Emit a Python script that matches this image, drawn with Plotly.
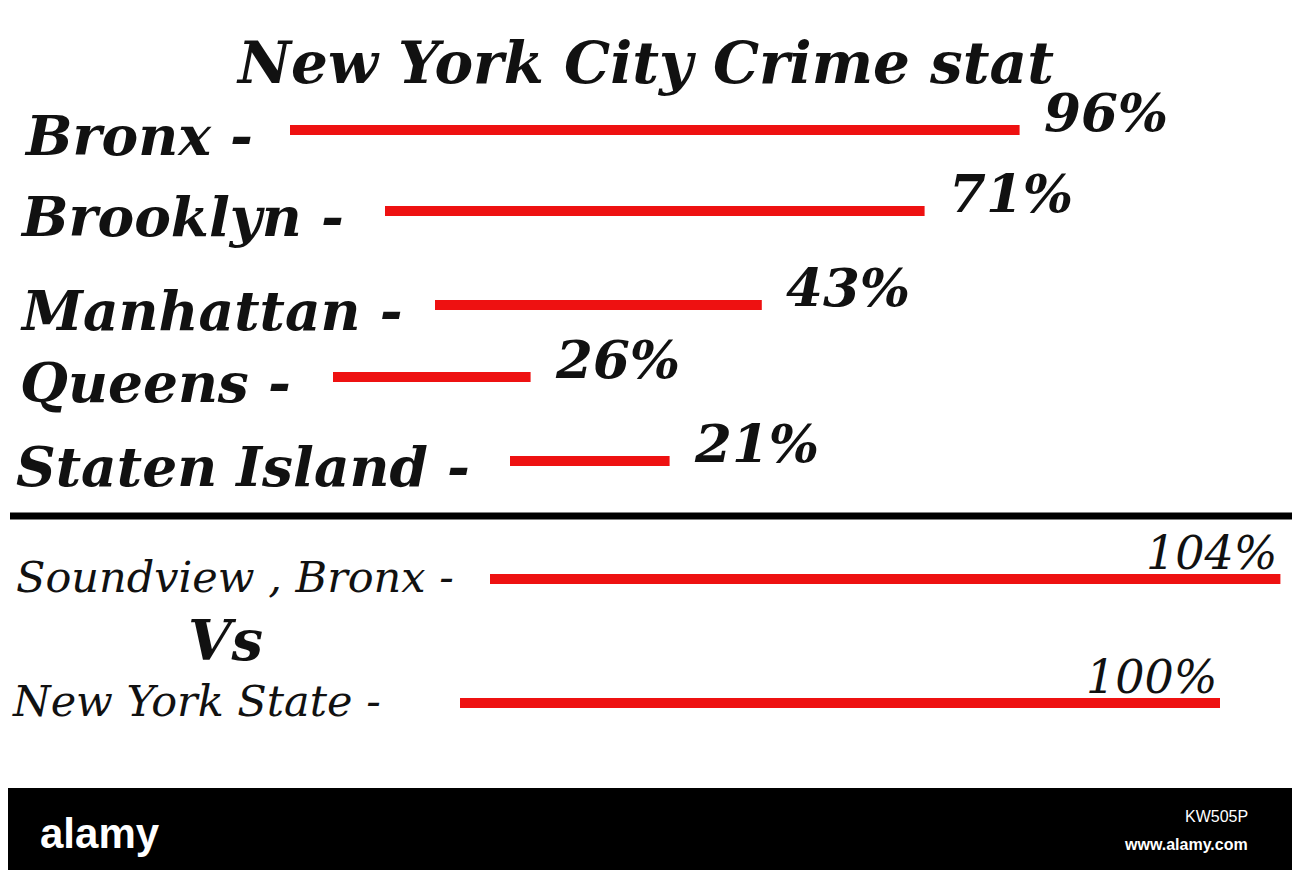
import plotly.graph_objects as go

boroughs = ["Bronx -", "Brooklyn -", "Manhattan -", "Queens -", "Staten Island -"]
borough_pct = [96, 71, 43, 26, 21]
compare = ["Soundview , Bronx -", "New York State -"]
compare_pct = [104, 100]

SCALE = 7.6
FONT = "DejaVu Serif"
b_rows = [122, 203, 297, 369, 453]
b_base = [282, 377, 427, 325, 502]
b_lx = [14, 10, 10, 10, 6]
c_rows = [571, 695]
c_base = [482, 452]
c_lx = [6, 2]

fig = go.Figure()
fig.add_trace(go.Bar(y=b_rows, x=[v * SCALE for v in borough_pct], base=b_base,
                     orientation="h", width=10, marker=dict(color="#ee1111", line_width=0)))
fig.add_trace(go.Bar(y=c_rows, x=[v * SCALE for v in compare_pct], base=c_base,
                     orientation="h", width=10, marker=dict(color="#ee1111", line_width=0)))

ann = []
def t(x, y, s, size, xa="left", bold=True):
    ann.append(dict(x=x, y=y, text=s, showarrow=False, xanchor=xa, yanchor="middle",
                    font=dict(family=FONT, size=size, color="#111", style="italic",
                              weight="bold" if bold else "normal")))

t(637, 55, "New York City Crime stat", 58, "center")
for lab, v, y, b, lx in zip(boroughs, borough_pct, b_rows, b_base, b_lx):
    t(lx, y + 5, lab, 55)
    t(b + v * SCALE + 22, y - 18, f"{v}%", 53)
for lab, v, y, b, lx in zip(compare, compare_pct, c_rows, c_base, c_lx):
    t(lx, y - 2, lab, 43, bold=False)
    t(b + v * SCALE, y - 26, f"{v}%", 46, "right", bold=False)
t(217, 632, "Vs", 56, "center")
ann.append(dict(x=92, y=825, text="alamy", showarrow=False, xanchor="center",
                font=dict(family="Liberation Sans", size=42, color="white", weight="bold")))
ann.append(dict(x=1242, y=808, text="KW505P", showarrow=False, xanchor="right",
                font=dict(family="Liberation Sans", size=16, color="white")))
ann.append(dict(x=1242, y=836, text="www.alamy.com", showarrow=False, xanchor="right",
                font=dict(family="Liberation Sans", size=16, color="white", weight="bold")))

fig.update_layout(
    width=1300, height=870, margin=dict(l=0, r=0, t=0, b=0),
    paper_bgcolor="white", plot_bgcolor="white", showlegend=False, barmode="overlay",
    xaxis=dict(range=[0, 1300], visible=False, fixedrange=True),
    yaxis=dict(range=[870, 0], visible=False, fixedrange=True),
    annotations=ann,
    shapes=[
        dict(type="line", x0=2, x1=1290, y0=508, y1=508, line=dict(color="black", width=7)),
        dict(type="rect", x0=0, x1=1300, y0=780, y1=870, fillcolor="black", line_width=0),
    ],
)
fig.write_html("out.html")
